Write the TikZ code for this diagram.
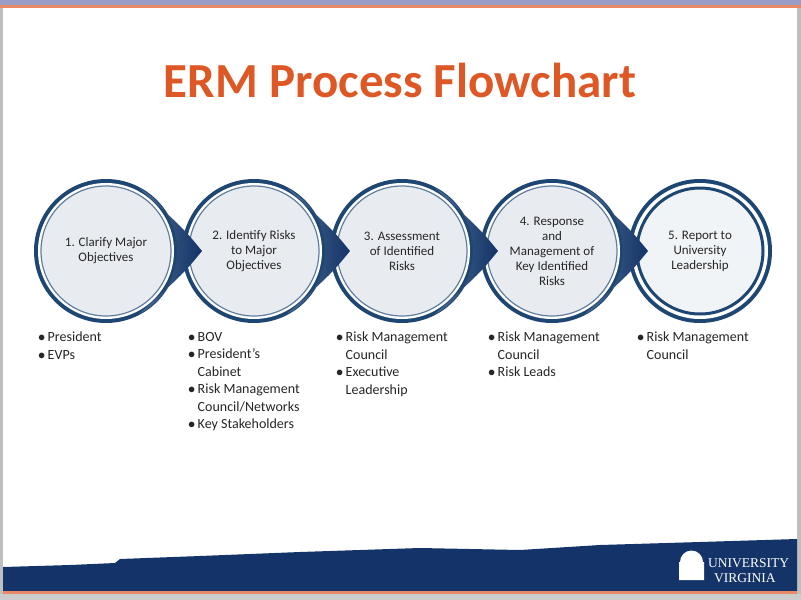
\documentclass[tikz,border=0pt]{standalone}
\usetikzlibrary{calc}
\usepackage{fontspec}
\setmainfont{Carlito}
\newfontfamily\logofont{Liberation Serif}
\begin{document}
\begin{tikzpicture}[x=1pt,y=-1pt,
  circ/.style={circle,minimum size=142pt,draw=uvanavy,line width=4pt,fill=circfill,align=center,font=\fontsize{13}{15}\selectfont,text=black!85,inner sep=0pt},
  lst/.style={anchor=north west,align=left,font=\fontsize{14}{17.5}\selectfont,text=black!85,inner sep=0pt},
  logo/.style={text=white,font=\fontsize{13.5}{13}\selectfont\logofont,inner sep=0pt,anchor=west}]
\definecolor{uvanavy}{RGB}{30,70,115}
\definecolor{banner}{RGB}{20,52,105}
\definecolor{circfill}{RGB}{232,236,241}
\definecolor{uvaorange}{RGB}{222,88,38}
\useasboundingbox (0,0) rectangle (801,600);
\fill[white] (0,0) rectangle (801,600);
% frame
\fill[gray!70!blue!60] (0,0) rectangle (801,5);
\fill[uvaorange!70] (0,5) rectangle (801,8);
\fill[gray!50] (0,8) rectangle (3,600);
\fill[gray!50] (797,8) rectangle (801,600);
% title
\node[text=uvaorange,font=\fontsize{49}{52}\selectfont\bfseries] (title) at (400,80) {ERM Process Flowchart};
% circles
\foreach \i/\x in {1/106,2/254,3/402,4/552,5/700}{
  \coordinate (c\i) at (\x,251);
}
\foreach \i in {1,...,5}{
  \fill[uvanavy] (c\i) circle (72);
  \fill[white] (c\i) circle (68);
}
\foreach \i/\t in {1/{1. Clarify Major\\Objectives},2/{2. Identify Risks\\to Major\\Objectives},3/{3. Assessment\\of Identified\\Risks},4/{4. Response\\and\\Management of\\Key Identified\\Risks}}{
  \node[circ,minimum size=130pt,line width=1.2pt,draw=uvanavy!70] (n\i) at (c\i) {\t};
}
\node[circ,minimum size=126pt,line width=3pt,fill=circfill!60] (n5) at (c5) {5. Report to\\University\\Leadership};
\foreach \i in {1,...,4}{
  \shade[left color=uvanavy!80!white,right color=banner] ($(c\i)+(96,0)$) .. controls ($(c\i)+(78,22)$) .. ($(c\i)+(62:71)$) arc[start angle=62,end angle=-62,radius=71] .. controls ($(c\i)+(78,-22)$) .. cycle;
}
% lists
\node[lst] (l1) at (38,332) {$\bullet$\,President\\$\bullet$\,EVPs};
\node[lst] (l2) at (188,332) {$\bullet$\,BOV\\$\bullet$\,President’s\\\hphantom{$\bullet$\,}Cabinet\\$\bullet$\,Risk Management\\\hphantom{$\bullet$\,}Council/Networks\\$\bullet$\,Key Stakeholders};
\node[lst] (l3) at (336,332) {$\bullet$\,Risk Management\\\hphantom{$\bullet$\,}Council\\$\bullet$\,Executive\\\hphantom{$\bullet$\,}Leadership};
\node[lst] (l4) at (488,332) {$\bullet$\,Risk Management\\\hphantom{$\bullet$\,}Council\\$\bullet$\,Risk Leads};
\node[lst] (l5) at (637,332) {$\bullet$\,Risk Management\\\hphantom{$\bullet$\,}Council};
% bottom banner
\fill[banner] (3,567) -- (70,565) -- (115,563) -- (120,559) -- (200,556) -- (300,552) -- (420,548) -- (520,550) -- (600,545) -- (700,542) -- (797,539) -- (797,591) -- (3,591) -- cycle;
\fill[uvaorange!70] (3,591) rectangle (797,594);
\fill[gray!40] (0,594) rectangle (801,600);
% logo
\fill[white] (679,562) -- (679,580) -- (704,580) -- (704,562) -- (703,562) arc[start angle=0,end angle=-180,radius=11.5] -- cycle;
\node[logo] (logo1) at (708,563) {UNIVERSITY};
\node[logo] (logo2) at (714,578) {VIRGINIA};
\end{tikzpicture}
\end{document}
